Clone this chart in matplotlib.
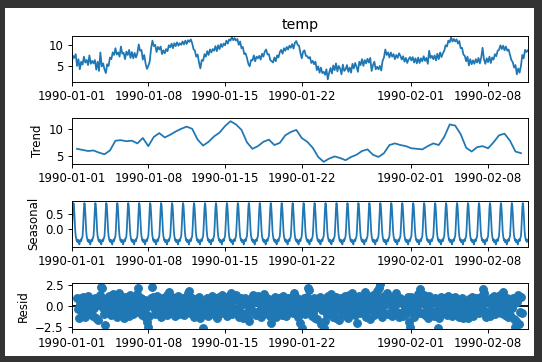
import numpy as np
import pandas as pd
import matplotlib
matplotlib.use("Agg")
import matplotlib.pyplot as plt
import matplotlib.dates as mdates
from matplotlib.patches import Rectangle

# ---------------- data ----------------
start = "1990-01-01"
n_hours = 1000
series_name = "temp"

# observed, every 3 hours (8 per day)
observed = [
    5.4, 7.4, 6.9, 7.8, 5.0, 6.6, 4.2, 6.0,
    5.3, 7.2, 5.8, 6.4, 5.2, 7.5, 5.5, 6.2,
    5.6, 6.4, 4.1, 6.0, 3.8, 8.2, 4.9, 5.6,
    4.2, 3.3, 5.4, 5.0, 7.0, 6.6, 8.2, 7.6,
    9.2, 7.7, 8.2, 7.2, 9.6, 7.9, 8.1, 6.6,
    8.4, 7.6, 8.8, 6.9, 8.3, 6.8, 8.1, 7.0,
    8.0, 10.1, 8.6, 8.8, 6.5, 7.6, 5.6, 4.3,
    5.0, 6.0, 9.1, 11.0, 9.7, 10.0, 8.3, 9.5,
    8.9, 9.6, 7.8, 8.7, 8.0, 9.0, 8.5, 9.9,
    9.4, 10.3, 9.2, 10.4, 9.7, 10.6, 9.8, 10.4,
    10.0, 10.8, 10.1, 11.0, 10.2, 11.1, 10.7, 11.3,
    10.4, 9.0, 8.6, 7.2, 7.7, 5.8, 4.4, 6.4,
    6.2, 7.8, 7.2, 8.5, 7.6, 8.9, 8.2, 9.0,
    8.6, 9.7, 8.5, 9.9, 9.0, 10.2, 9.5, 10.3,
    9.9, 11.0, 10.3, 11.3, 11.0, 11.9, 11.1, 11.6,
    11.0, 11.4, 10.0, 10.8, 9.2, 9.5, 7.8, 8.0,
    6.9, 5.5, 4.9, 6.4, 6.3, 7.5, 6.1, 7.2,
    6.8, 7.4, 6.5, 7.9, 7.2, 8.4, 8.9, 7.7,
    7.8, 6.4, 6.1, 5.8, 7.0, 6.1, 7.5, 7.0,
    8.3, 8.8, 7.9, 9.2, 8.6, 9.5, 8.9, 9.8,
    9.3, 10.2, 9.1, 10.5, 10.9, 10.0, 9.8, 8.1,
    6.8, 8.4, 8.7, 7.4, 7.3, 6.8, 7.1, 5.7,
    6.2, 5.4, 6.0, 4.0, 4.9, 3.4, 4.6, 3.3,
    3.6, 2.9, 4.2, 1.8, 3.4, 4.5, 3.2, 5.1,
    4.0, 5.6, 3.7, 5.0, 4.4, 3.0, 5.3, 3.8,
    4.2, 5.2, 3.6, 4.6, 3.4, 5.5, 4.4, 5.7,
    4.8, 3.6, 6.0, 5.2, 6.6, 5.0, 6.4, 5.6,
    6.7, 5.8, 6.9, 3.8, 5.2, 6.0, 4.2, 4.8,
    4.2, 5.0, 3.9, 6.2, 7.0, 8.9, 7.6, 8.2,
    7.0, 8.2, 7.2, 7.8, 6.6, 7.6, 6.9, 8.0,
    7.4, 6.5, 7.3, 6.0, 6.9, 5.7, 6.6, 7.1,
    6.3, 7.1, 5.8, 6.8, 5.6, 7.0, 5.7, 6.8,
    6.1, 7.3, 6.2, 6.9, 5.5, 8.6, 6.9, 7.4,
    6.6, 7.5, 6.3, 7.9, 6.6, 8.2, 7.1, 8.0,
    8.6, 9.9, 9.6, 11.0, 10.6, 11.8, 10.8, 11.4,
    10.8, 11.3, 10.3, 10.9, 9.2, 9.3, 7.7, 7.4,
    6.1, 7.2, 5.1, 6.6, 5.4, 6.3, 5.5, 6.6,
    5.8, 6.9, 5.6, 7.0, 9.3, 6.6, 5.5, 6.8,
    5.9, 7.2, 5.7, 7.0, 6.5, 7.8, 7.3, 8.6,
    8.8, 9.9, 9.0, 9.8, 8.7, 9.6, 8.6, 8.9,
    7.6, 6.4, 5.9, 4.6, 5.2, 3.0, 4.4, 3.4,
    5.0, 7.6, 6.8, 8.8, 8.3, 8.7,
]

# trend, every 12 hours starting at 12:00 on day 0
trend = [
    6.3, 6.1, 5.9, 6.0, 5.6, 5.3, 6.0, 7.8, 7.9, 7.7,
    7.8, 7.3, 8.3, 6.8, 8.5, 9.2, 8.4, 8.9, 9.5, 10.0,
    10.4, 10.0, 8.0, 6.9, 7.6, 8.6, 9.3, 10.5, 11.4, 10.8,
    9.8, 7.5, 6.3, 6.8, 7.6, 8.0, 7.0, 7.4, 8.8, 9.4,
    9.8, 8.3, 7.6, 6.5, 4.8, 3.9, 4.5, 4.9, 4.6, 4.2,
    4.8, 5.2, 5.9, 6.2, 5.2, 4.8, 5.5, 7.0, 7.3, 7.0,
    6.8, 6.4, 6.3, 6.2, 6.8, 7.3, 7.0, 8.5, 10.8, 10.6,
    9.0, 6.5, 5.8, 6.6, 6.8, 6.4, 7.5, 8.8, 9.1, 7.8,
    5.8, 5.5,
]

# seasonal daily profile (hourly, 24 values)
seasonal_profile = [
    -0.25, 0.00, 0.35, 0.70, 0.87, 0.80, 0.55, 0.20,
    -0.08, -0.25, -0.33, -0.40, -0.36, -0.45, -0.40, -0.38,
    -0.47, -0.53, -0.44, -0.41, -0.36, -0.42, -0.35, -0.30,
]

# residuals, every 2 hours starting at 12:00 on day 0 (12 per day)
resid = [
    0.9, -0.4, -1.5, 0.2, 1.0, -0.8,
    0.3, 1.1, -0.6, -1.3, 0.5, -0.1, 1.2, -1.0, 0.2, 0.8, -0.5, -1.2,
    0.6, -0.2, 1.0, -1.4, 0.1, -1.7, 0.4, 1.3, 2.3, 2.1, -0.3, 0.7,
    -1.0, -2.3, -0.2, 0.9, -0.7, 1.2, 0.0, -1.1, 0.6, 1.4, -0.4, 0.3,
    1.0, -0.5, -1.3, 0.4, 1.6, -0.1, 0.8, -0.9, 0.2, -1.4, 0.5, 1.1,
    -0.6, 0.9, 0.1, -1.2, 1.3, -0.3, 0.6, -1.0, 0.0, 1.0, -0.7, 0.4,
    1.4, 2.2, 0.5, -0.4, 1.0, -1.1, 0.2, -0.8, 0.7, -1.5, -0.3, -1.9,
    -2.5, -1.2, 0.3, 0.9, 2.3, 1.1, -0.2, -1.0, 0.6, -0.5, 1.2, 0.1,
    -0.7, 0.5, -1.3, 1.0, 0.0, -0.9, 0.8, -0.2, 1.3, -1.1, 0.4, 1.7,
    0.2, -0.8, 1.1, -0.3, 0.6, -1.2, 0.9, 0.0, -0.6, 1.2, -1.0, 0.3,
    0.7, -0.4, 1.0, -1.1, 0.1, 0.5, -0.7, 1.5, 1.8, 0.3, -0.9, 0.6,
    1.0, -0.2, -1.3, 0.4, 0.8, -1.0, 0.0, 1.1, -0.6, -1.5, 0.5, -0.3,
    -2.7, -1.0, 0.6, -0.3, 1.0, -1.2, 0.2, 0.8, -0.8, 0.4, 1.2, -0.5,
    0.5, -1.1, 0.9, -1.4, 0.1, 1.1, -0.4, 0.6, -0.9, 1.3, 0.2, -0.7,
    -0.3, 0.9, -1.2, 0.4, 1.2, -0.6, 1.5, 0.2, -1.0, 0.7, -0.2, 1.1,
    1.3, -0.5, 0.7, -1.3, 0.0, 1.0, -0.9, 0.5, -1.4, 0.3, 0.9, -0.8,
    0.1, -1.5, -1.8, 0.6, -0.4, 1.0, 0.3, 1.3, -0.7, 0.5, -1.1, 0.8,
    1.2, -0.6, 0.2, -1.3, 0.9, -0.1, 0.5, 1.4, -0.8, 0.0, 1.0, -1.0,
    0.4, -1.2, -2.0, -0.5, 0.8, -0.9, 0.2, 1.1, -1.3, 0.6, -0.2, 1.0,
    -0.7, 0.9, -1.1, 0.3, 1.2, -0.4, 0.7, -1.2, 0.1, 1.0, -0.6, 0.5,
    -0.3, 1.1, -0.9, 0.6, 1.5, 0.0, -0.7, 0.9, -1.3, 0.4, -2.0, -0.5,
    -2.7, -0.6, 1.0, 0.2, -1.0, 0.7, 1.1, 2.2, 1.9, -0.4, 0.5, -1.2,
    -0.8, 1.0, -0.3, -1.4, 0.4, -1.6, 0.8, -0.1, 1.1, -2.2, -0.5, 0.6,
    -2.6, -1.8, -0.2, 0.9, -1.1, 1.2, 0.3, -0.7, 1.4, 0.0, -1.3, 0.5,
    -0.5, 1.1, -1.4, 0.3, 0.8, -1.7, 0.0, 1.0, -0.9, 0.5, -0.2, 1.2,
    -1.2, 0.6, 0.0, -1.5, 1.3, -0.4, 0.8, 1.6, -0.8, 0.2, -1.1, 0.9,
    -0.3, -2.0, 0.7, 1.2, -0.9, 0.4, 1.0, -0.6, 0.1, 1.7, -1.3, 0.5,
    0.8, -0.5, 1.1, -1.6, -0.2, 0.6, 1.3, -1.1, 0.3, -0.7, 1.8, 0.0,
    1.0, 2.2, 2.6, -0.4, -1.3, 0.5, 1.2, -0.8, 0.2, 1.6, -1.0, 0.4,
    -0.9, 0.7, 0.1, -1.2, 1.1, -0.5, 0.9, 1.5, -0.7, 0.3, -1.3, 0.6,
    1.0, -0.8, 0.3, -1.2, 0.6, -0.3, -1.0, 0.8, 1.1, -1.9, -2.5, 0.2,
    1.1, -0.6, 0.5, -1.3, 0.2, 1.0, -0.4, 1.4, -0.9, 2.0, 1.2, 0.3,
    -0.8, 0.9, 1.3, -1.1, 0.0, 0.6, -1.4, 1.2, -0.5, 0.4, -1.0, 0.7,
    0.5, -1.2, 1.0, -0.6, 0.2, -2.7, -1.5, 0.8, -0.3, 1.1, 0.0, -0.9,
    -0.4, 1.0, 0.3, -1.1, 1.2, -0.7, 0.6, 0.0, -1.2, 0.9, -0.3, 0.5,
    1.1, -0.9, 0.4, -0.2, -1.3, 0.7, 0.1, -0.8, 1.0, -1.4, 0.3, -0.5,
    -1.0, 0.6, -1.5, 0.8, 0.0, -0.6, 1.1, 0.3, -1.2, 0.5, 0.9, -0.3,
    0.2, 1.0, -0.9, 0.5, -0.4, 1.2, 2.0, 1.6, -0.6, 0.3, -1.3, 0.7,
    -0.7, 0.4, -1.2, 0.9, 0.1, -0.5, 1.2, 0.6, -1.0, 0.8, -0.2, 1.0,
    0.4, 1.3, -0.8, 0.0, 1.7, 0.6, -1.1, 0.3, -0.6, 1.0, -1.3, 0.2,
    -1.1, 0.7, -0.3, 1.0, -1.6, 0.4, -2.5, -1.8, 0.5, 1.3, -2.2, -0.7,
    1.1, -0.9,
]

tick_dates = ["1990-01-01", "1990-01-08", "1990-01-15", "1990-01-22",
              "1990-02-01", "1990-02-08"]

# ---------------- indexes ----------------
obs_idx = pd.date_range(start, periods=len(observed), freq="3h")
trend_idx = pd.date_range(pd.Timestamp(start) + pd.Timedelta(hours=12),
                          periods=len(trend), freq="12h")
resid_idx = pd.date_range(pd.Timestamp(start) + pd.Timedelta(hours=12),
                          periods=len(resid), freq="2h")
hour_idx = pd.date_range(start, periods=n_hours, freq="h")
seasonal = np.tile(seasonal_profile, n_hours // 24 + 1)[:n_hours]
xlim = (hour_idx[0], hour_idx[-1])

# ---------------- figure ----------------
W, H = 542, 362
DPI = 85
fig = plt.figure(figsize=(W / DPI, H / DPI), dpi=DPI)
fig.patch.set_facecolor("#333333")
fig.patches.append(Rectangle((5 / W, 6 / H), 529 / W, 348 / H,
                             transform=fig.transFigure, facecolor="white",
                             edgecolor="none", zorder=-10))

left_px, right_px = 71.6, 527.8
tops = [36.0, 118.5, 201.0, 283.0]
height_px = 45.5

axes = []
for t in tops:
    ax = fig.add_axes([left_px / W, 1 - (t + height_px) / H,
                       (right_px - left_px) / W, height_px / H])
    axes.append(ax)

c = "#1f77b4"
axes[0].plot(obs_idx, observed, color=c, lw=1.5)
axes[0].set_title(series_name, fontsize=12)
axes[0].set_ylim(1.3, 12.1)
axes[0].set_yticks([5, 10])

axes[1].plot(trend_idx, trend, color=c, lw=1.5)
axes[1].set_ylabel("Trend")
axes[1].set_ylim(3.5, 11.9)
axes[1].set_yticks([5, 10])

axes[2].plot(hour_idx, seasonal, color=c, lw=1.5)
axes[2].set_ylabel("Seasonal")
axes[2].set_ylim(-0.60, 0.94)
axes[2].set_yticks([0.0, 0.5])

axes[3].plot(resid_idx, resid, marker="o", linestyle="none", color=c,
             markersize=6.5)
axes[3].plot(xlim, (0, 0), color="#000000", zorder=-3)
axes[3].set_ylabel("Resid")
axes[3].set_ylim(-2.72, 2.76)
axes[3].set_yticks([-2.5, 0.0, 2.5])

for ax in axes:
    ax.set_xlim(*xlim)
    ax.set_xticks(pd.to_datetime(tick_dates))
    ax.xaxis.set_major_formatter(mdates.DateFormatter("%Y-%m-%d"))
    ax.tick_params(labelsize=10)

fig.savefig("out.png", dpi=DPI, facecolor=fig.get_facecolor())
